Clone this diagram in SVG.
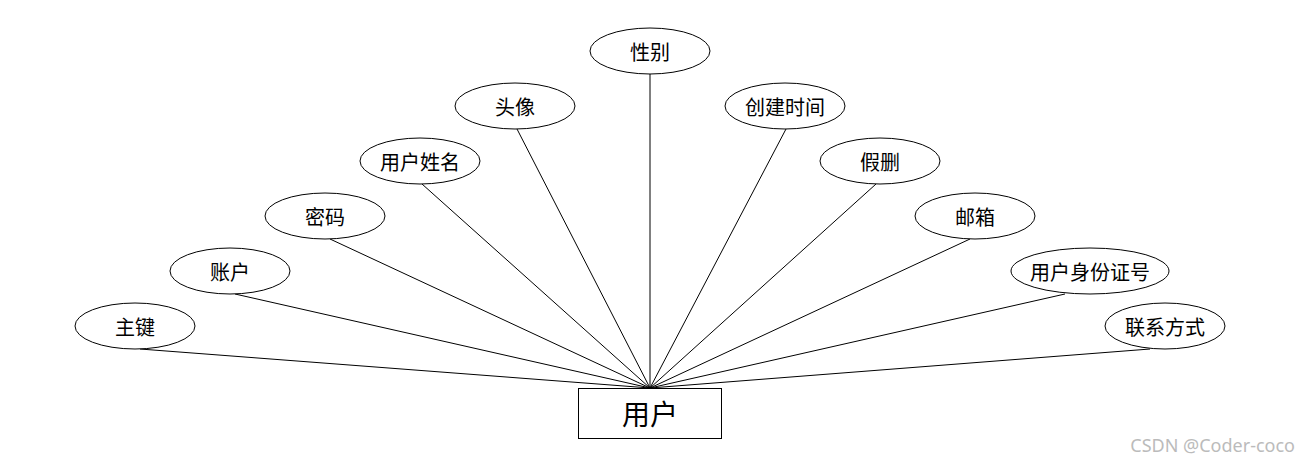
<svg xmlns="http://www.w3.org/2000/svg" width="1300" height="468" viewBox="0 0 1300 468">
<style>
ellipse{fill:#fff;stroke:#000;stroke-width:1}
.t{font-family:"Noto Sans CJK SC","Liberation Sans",sans-serif;font-size:20px;text-anchor:middle;dominant-baseline:central;fill:#000}
line{stroke:#000;stroke-width:1}
</style>
<rect width="1300" height="468" fill="#fff"/>
<g id="connectors">
<line x1="140" y1="349" x2="650" y2="388"/>
<line x1="235" y1="294" x2="650" y2="388"/>
<line x1="330" y1="239" x2="650" y2="388"/>
<line x1="422" y1="184" x2="650" y2="388"/>
<line x1="517" y1="129" x2="650" y2="388"/>
<line x1="650" y1="74" x2="650" y2="388"/>
<line x1="786" y1="129" x2="650" y2="388"/>
<line x1="876" y1="184" x2="650" y2="388"/>
<line x1="970" y1="239" x2="650" y2="388"/>
<line x1="1065" y1="294" x2="650" y2="388"/>
<line x1="1150" y1="349" x2="650" y2="388"/>
</g>
<g id="n1"><ellipse cx="135" cy="326" rx="60" ry="23"/><text class="t" x="135" y="326">主键</text></g>
<g id="n2"><ellipse cx="230" cy="271" rx="60" ry="23"/><text class="t" x="230" y="271">账户</text></g>
<g id="n3"><ellipse cx="325" cy="216" rx="60" ry="23"/><text class="t" x="325" y="216">密码</text></g>
<g id="n4"><ellipse cx="420" cy="161" rx="60" ry="23"/><text class="t" x="420" y="161">用户姓名</text></g>
<g id="n5"><ellipse cx="515" cy="106" rx="60" ry="23"/><text class="t" x="515" y="106">头像</text></g>
<g id="n6"><ellipse cx="650" cy="51" rx="60" ry="23"/><text class="t" x="650" y="51">性别</text></g>
<g id="n7"><ellipse cx="785" cy="106" rx="60" ry="23"/><text class="t" x="785" y="106">创建时间</text></g>
<g id="n8"><ellipse cx="880" cy="161" rx="60" ry="23"/><text class="t" x="880" y="161">假删</text></g>
<g id="n9"><ellipse cx="975" cy="216" rx="60" ry="23"/><text class="t" x="975" y="216">邮箱</text></g>
<g id="n10"><ellipse cx="1090" cy="271" rx="79" ry="23"/><text class="t" x="1090" y="271">用户身份证号</text></g>
<g id="n11"><ellipse cx="1165" cy="326" rx="60" ry="23"/><text class="t" x="1165" y="326">联系方式</text></g>
<g id="user"><rect x="578.5" y="388.5" width="143" height="50" fill="#fff" stroke="#000"/><text class="t" x="650" y="413" style="font-size:28px">用户</text></g>
<text x="1295" y="452" style="font-family:'Noto Sans','Liberation Sans',sans-serif;font-size:18px;fill:#bbb;text-anchor:end">CSDN @Coder-coco</text>
</svg>
